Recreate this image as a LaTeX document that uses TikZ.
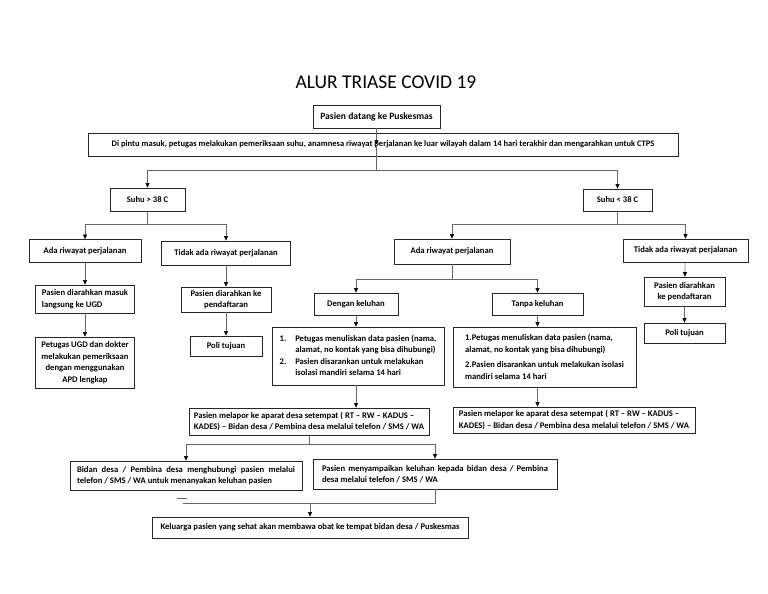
\documentclass[tikz,border=0pt]{standalone}
\usepackage{fontspec}
\setmainfont{Carlito}
\usetikzlibrary{arrows.meta,positioning}

\begin{document}
\begin{tikzpicture}
  [x=1pt,y=-1pt,
  box/.style={draw=black!85,line width=0.8pt,inner sep=2pt,align=center,
    font=\fontsize{8.6}{11.5}\selectfont\bfseries},
  conn/.style={draw=black!60,line width=0.6pt},
  arr/.style={conn,-{Triangle[length=4.5pt,width=4pt,color=black]}}]
  \useasboundingbox (0,0) rectangle (768,594);

  \node [font=\fontsize{19.5}{22}\selectfont] (title) at (386,82) {ALUR TRIASE COVID 19};
  \node [box,minimum width=127,minimum height=23,font=\fontsize{9.6}{11.5}\selectfont\bfseries] (datang) at (376.5,116.5) {Pasien datang ke Puskesmas};
  \node [box,minimum width=590,minimum height=23,font=\fontsize{8.5}{11}\selectfont\bfseries] (pintu) at (383,144.5) {Di pintu masuk, petugas melakukan pemeriksaan suhu, anamnesa riwayat perjalanan ke luar wilayah dalam 14 hari terakhir dan mengarahkan untuk CTPS};

  \node [box,minimum width=75,minimum height=23] (suhuA) at (147.5,199.5) {Suhu > 38 C};
  \node [box,minimum width=69,minimum height=22] (suhuB) at (617.5,200) {Suhu < 38 C};

  \node [box,minimum width=112,minimum height=23] (adaA) at (85,251) {Ada riwayat perjalanan};
  \node [box,minimum width=129,minimum height=24] (tidakA) at (226,253) {Tidak ada riwayat perjalanan};
  \node [box,minimum width=116,minimum height=25] (adaB) at (452,251.5) {Ada riwayat perjalanan};
  \node [box,minimum width=125,minimum height=23] (tidakB) at (685.5,250.5) {Tidak ada riwayat perjalanan};

  \node [box,minimum width=99,minimum height=28,align=left] (masukA) at (85,299) {Pasien diarahkan masuk\\langsung ke UGD};
  \node [box,minimum width=99,minimum height=51] (petugasA) at (85,362.5) {Petugas UGD dan dokter\\melakukan pemeriksaan\\dengan menggunakan\\APD lengkap};
  \node [box,minimum width=90,minimum height=25] (daftarA) at (226,299.5) {Pasien diarahkan ke\\pendaftaran};
  \node [box,minimum width=72,minimum height=20] (poliA) at (226,346) {Poli tujuan};

  \node [box,minimum width=84,minimum height=22] (dengan) at (356,304) {Dengan keluhan};
  \node [box,minimum width=91,minimum height=22] (tanpa) at (537.5,304) {Tanpa keluhan};
  \node [box,minimum width=81,minimum height=29] (daftarB) at (684.5,291.5) {Pasien diarahkan\\ke pendaftaran};
  \node [box,minimum width=81,minimum height=20] (poliB) at (684.5,333) {Poli tujuan};

  \node [box,minimum width=172,minimum height=58,align=left] (listA) at (358,356)
    {\begin{tabular}{@{}l@{\hspace{9pt}}l@{}}
      1. & Petugas menuliskan data pasien (nama,\\
         & alamat, no kontak yang bisa dihubungi)\\
      2. & Pasien disarankan untuk melakukan\\
         & isolasi mandiri selama 14 hari
    \end{tabular}};
  \node [box,minimum width=183,minimum height=60,align=left] (listB) at (544.5,357)
    {1.Petugas menuliskan data pasien (nama,\\alamat, no kontak yang bisa dihubungi)\\[4pt]2.Pasien disarankan untuk melakukan isolasi\\mandiri selama 14 hari};

  \node [box,minimum width=240,minimum height=27,align=left] (laporA) at (309,421.5) {Pasien melapor ke aparat desa setempat ( RT -- RW -- KADUS --\\KADES) -- Bidan desa / Pembina desa melalui telefon / SMS / WA};
  \node [box,minimum width=242,minimum height=26,align=left] (laporB) at (574,420) {Pasien melapor ke aparat desa setempat ( RT -- RW -- KADUS --\\KADES) -- Bidan desa / Pembina desa melalui telefon / SMS / WA};

  \node [box,minimum width=232,minimum height=29,align=left] (bidan) at (186,475.5) {\makebox[218pt][s]{Bidan desa / Pembina desa menghubungi pasien melalui}\\telefon / SMS / WA untuk menanyakan keluhan pasien};
  \node [box,minimum width=244,minimum height=30,align=left] (sampai) at (435,474) {\makebox[226pt][s]{Pasien menyampaikan keluhan kepada bidan desa / Pembina}\\desa melalui telefon / SMS / WA};
  \node [box,minimum width=316,minimum height=21] (keluarga) at (310,527.5) {Keluarga pasien yang sehat akan membawa obat ke tempat bidan desa / Puskesmas};

  \coordinate (j1) at (376.5,170);
  \coordinate (j2) at (147.5,224);
  \coordinate (j3) at (617.5,224);
  \coordinate (j4) at (452,279);
  \coordinate (j5) at (309,444);
  \coordinate (j6) at (435,503);
  \coordinate (e1) at (183,503);
  \coordinate (d1) at (177,498);
  \coordinate (d2) at (187,498);

  \draw [arr] (datang.south) -- (datang.south |- pintu.center);
  \draw [conn] (datang.south |- pintu.center) -- (j1);
  \draw [conn] (suhuA |- j1) -- (suhuB |- j1);
  \draw [arr] (suhuA |- j1) -- (suhuA);
  \draw [arr] (suhuB |- j1) -- (suhuB);

  \draw [conn] (suhuA) -- (j2);
  \draw [conn] (adaA |- j2) -- (tidakA |- j2);
  \draw [arr] (adaA |- j2) -- (adaA);
  \draw [arr] (tidakA |- j2) -- (tidakA);
  \draw [conn] (suhuB) -- (j3);
  \draw [conn] (adaB |- j3) -- (tidakB |- j3);
  \draw [arr] (adaB |- j3) -- (adaB);
  \draw [arr] (tidakB |- j3) -- (tidakB);

  \draw [arr] (adaA) -- (masukA);
  \draw [arr] (masukA) -- (petugasA);
  \draw [arr] (tidakA) -- (daftarA);
  \draw [arr] (daftarA) -- (poliA);
  \draw [arr] (tidakB) -- (daftarB);
  \draw [arr] (daftarB) -- (poliB);

  \draw [conn] (adaB) -- (j4);
  \draw [conn] (dengan |- j4) -- (tanpa |- j4);
  \draw [arr] (dengan |- j4) -- (dengan);
  \draw [arr] (tanpa |- j4) -- (tanpa);
  \draw [arr] (dengan) -- (dengan |- listA.north);
  \draw [arr] (tanpa) -- (tanpa |- listB.north);
  \draw [arr] (dengan |- listA.south) -- (dengan |- laporA.north);
  \draw [arr] (tanpa |- listB.south) -- (tanpa |- laporB.north);

  \draw [conn] (laporA) -- (j5);
  \draw [conn] (bidan |- j5) -- (sampai |- j5);
  \draw [arr] (bidan |- j5) -- (bidan);
  \draw [arr] (sampai |- j5) -- (sampai);
  \draw [conn] (sampai) -- (j6) -- (e1);
  \draw [conn] (d1) -- (d2);
  \draw [arr] (keluarga |- j6) -- (keluarga);
\end{tikzpicture}
\end{document}
